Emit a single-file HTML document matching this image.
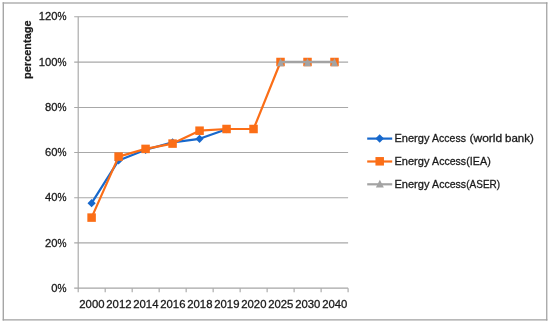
<!DOCTYPE html>
<html lang="en"><head><meta charset="utf-8"><title>Energy Access</title>
<style>
html,body{margin:0;padding:0;background:#fff;}
body{width:550px;height:323px;overflow:hidden;}
svg{display:block;}
text{font-family:"Liberation Sans",sans-serif;fill:#1a1a1a;}
</style></head><body>
<svg width="550" height="323" viewBox="0 0 550 323">
<rect x="0" y="0" width="550" height="323" fill="#fff"/>
<g stroke="#A6A6A6" stroke-width="1.3" fill="none"><line x1="2.7" y1="2.95" x2="547.4" y2="2.95" stroke="#B0B0B0" stroke-width="1.4"/><line x1="3.3" y1="2.3" x2="3.3" y2="320.4" stroke-width="1.4"/><line x1="546.75" y1="2.3" x2="546.75" y2="320.4" stroke="#A0A0A0" stroke-width="1.25"/><line x1="2.7" y1="319.8" x2="547.4" y2="319.8" stroke="#A0A0A0"/></g>
<g stroke="#A8A8A8" stroke-width="1.15" fill="none"><line x1="74.20" y1="288.20" x2="348.10" y2="288.20" stroke="#A6A6A6" stroke-width="1.3"/><line x1="74.20" y1="242.80" x2="348.10" y2="242.80"/><line x1="74.20" y1="197.70" x2="348.10" y2="197.70"/><line x1="74.20" y1="152.50" x2="348.10" y2="152.50"/><line x1="74.20" y1="107.50" x2="348.10" y2="107.50"/><line x1="74.20" y1="62.10" x2="348.10" y2="62.10"/><line x1="74.20" y1="16.70" x2="348.10" y2="16.70"/><line x1="78.20" y1="16.70" x2="78.20" y2="292.15"/><line x1="105.19" y1="288.15" x2="105.19" y2="292.15"/><line x1="132.18" y1="288.15" x2="132.18" y2="292.15"/><line x1="159.17" y1="288.15" x2="159.17" y2="292.15"/><line x1="186.16" y1="288.15" x2="186.16" y2="292.15"/><line x1="213.15" y1="288.15" x2="213.15" y2="292.15"/><line x1="240.14" y1="288.15" x2="240.14" y2="292.15"/><line x1="267.13" y1="288.15" x2="267.13" y2="292.15"/><line x1="294.12" y1="288.15" x2="294.12" y2="292.15"/><line x1="321.11" y1="288.15" x2="321.11" y2="292.15"/><line x1="348.10" y1="288.15" x2="348.10" y2="292.15"/></g>
<g font-size="11.6" stroke="#1a1a1a" stroke-width="0.3"><text y="291.95"><tspan x="51.30" textLength="6.25" lengthAdjust="spacingAndGlyphs">0</tspan><tspan x="57.45" textLength="9.0" lengthAdjust="spacingAndGlyphs">%</tspan></text><text y="246.55"><tspan x="45.05" textLength="12.50" lengthAdjust="spacingAndGlyphs">20</tspan><tspan x="57.45" textLength="9.0" lengthAdjust="spacingAndGlyphs">%</tspan></text><text y="201.45"><tspan x="45.05" textLength="12.50" lengthAdjust="spacingAndGlyphs">40</tspan><tspan x="57.45" textLength="9.0" lengthAdjust="spacingAndGlyphs">%</tspan></text><text y="156.25"><tspan x="45.05" textLength="12.50" lengthAdjust="spacingAndGlyphs">60</tspan><tspan x="57.45" textLength="9.0" lengthAdjust="spacingAndGlyphs">%</tspan></text><text y="111.25"><tspan x="45.05" textLength="12.50" lengthAdjust="spacingAndGlyphs">80</tspan><tspan x="57.45" textLength="9.0" lengthAdjust="spacingAndGlyphs">%</tspan></text><text y="65.85"><tspan x="38.80" textLength="18.75" lengthAdjust="spacingAndGlyphs">100</tspan><tspan x="57.45" textLength="9.0" lengthAdjust="spacingAndGlyphs">%</tspan></text><text y="20.45"><tspan x="38.80" textLength="18.75" lengthAdjust="spacingAndGlyphs">120</tspan><tspan x="57.45" textLength="9.0" lengthAdjust="spacingAndGlyphs">%</tspan></text></g>
<g font-size="11.6" text-anchor="middle" stroke="#1a1a1a" stroke-width="0.3"><text x="91.90" y="307.9" textLength="25.2" lengthAdjust="spacingAndGlyphs">2000</text><text x="118.89" y="307.9" textLength="25.2" lengthAdjust="spacingAndGlyphs">2012</text><text x="145.88" y="307.9" textLength="25.2" lengthAdjust="spacingAndGlyphs">2014</text><text x="172.87" y="307.9" textLength="25.2" lengthAdjust="spacingAndGlyphs">2016</text><text x="199.86" y="307.9" textLength="25.2" lengthAdjust="spacingAndGlyphs">2018</text><text x="226.85" y="307.9" textLength="25.2" lengthAdjust="spacingAndGlyphs">2019</text><text x="253.84" y="307.9" textLength="25.2" lengthAdjust="spacingAndGlyphs">2020</text><text x="280.82" y="307.9" textLength="25.2" lengthAdjust="spacingAndGlyphs">2025</text><text x="307.81" y="307.9" textLength="25.2" lengthAdjust="spacingAndGlyphs">2030</text><text x="334.81" y="307.9" textLength="25.2" lengthAdjust="spacingAndGlyphs">2040</text></g>
<text transform="translate(31.35,78.9) rotate(-90)" font-size="11.8" font-weight="bold" stroke="#1a1a1a" stroke-width="0.25" textLength="58.4" lengthAdjust="spacingAndGlyphs">percentage</text>
<polyline points="91.60,203.20 118.59,160.40 145.58,149.80 172.57,142.40 199.56,138.80 226.55,129.20" fill="none" stroke="#1768CC" stroke-width="2.2" stroke-linejoin="round" stroke-linecap="round"/><path d="M91.60 199.10L95.70 203.20L91.60 207.30L87.50 203.20Z" fill="#1768CC"/><path d="M118.59 156.30L122.69 160.40L118.59 164.50L114.49 160.40Z" fill="#1768CC"/><path d="M145.58 145.70L149.68 149.80L145.58 153.90L141.48 149.80Z" fill="#1768CC"/><path d="M172.57 138.30L176.67 142.40L172.57 146.50L168.47 142.40Z" fill="#1768CC"/><path d="M199.56 134.70L203.66 138.80L199.56 142.90L195.46 138.80Z" fill="#1768CC"/><path d="M226.55 125.10L230.65 129.20L226.55 133.30L222.45 129.20Z" fill="#1768CC"/>
<polyline points="91.60,217.60 118.59,156.60 145.58,148.90 172.57,143.60 199.56,130.70 226.55,129.00 253.53,129.00 280.52,62.00 307.51,62.00 334.50,62.00" fill="none" stroke="#FB6E17" stroke-width="2.2" stroke-linejoin="round" stroke-linecap="round"/><rect x="87.35" y="213.35" width="8.50" height="8.50" fill="#FB6E17"/><rect x="114.34" y="152.35" width="8.50" height="8.50" fill="#FB6E17"/><rect x="141.33" y="144.65" width="8.50" height="8.50" fill="#FB6E17"/><rect x="168.32" y="139.35" width="8.50" height="8.50" fill="#FB6E17"/><rect x="195.31" y="126.45" width="8.50" height="8.50" fill="#FB6E17"/><rect x="222.30" y="124.75" width="8.50" height="8.50" fill="#FB6E17"/><rect x="249.28" y="124.75" width="8.50" height="8.50" fill="#FB6E17"/><rect x="276.27" y="57.75" width="8.50" height="8.50" fill="#FB6E17"/><rect x="303.26" y="57.75" width="8.50" height="8.50" fill="#FB6E17"/><rect x="330.25" y="57.75" width="8.50" height="8.50" fill="#FB6E17"/>
<polyline points="280.52,61.94 307.51,61.94 334.50,61.94" fill="none" stroke="#A3A3A3" stroke-width="2.5" stroke-linejoin="round" stroke-linecap="round"/><path d="M280.52 57.89L284.09 66.19L276.96 66.19Z" fill="#A3A3A3"/><path d="M307.51 57.89L311.08 66.19L303.95 66.19Z" fill="#A3A3A3"/><path d="M334.50 57.89L338.07 66.19L330.94 66.19Z" fill="#A3A3A3"/>
<line x1="367.2" y1="138.60" x2="392.2" y2="138.60" stroke="#1768CC" stroke-width="2.2"/><path d="M379.70 134.35L383.95 138.60L379.70 142.85L375.45 138.60Z" fill="#1768CC"/><line x1="367.2" y1="161.50" x2="392.2" y2="161.50" stroke="#FB6E17" stroke-width="2.2"/><rect x="375.45" y="157.05" width="8.50" height="8.50" fill="#FB6E17"/><line x1="367.2" y1="184.30" x2="392.2" y2="184.30" stroke="#A3A3A3" stroke-width="2.2"/><path d="M379.85 179.75L383.83 187.55L375.87 187.55Z" fill="#A3A3A3"/>
<g font-size="11.3" stroke="#1a1a1a" stroke-width="0.3"><text y="141.8"><tspan x="394.4" textLength="35.1" lengthAdjust="spacingAndGlyphs">Energy</tspan> <tspan x="432.1" textLength="33.8" lengthAdjust="spacingAndGlyphs">Access</tspan> <tspan x="469.5" textLength="32.7" lengthAdjust="spacingAndGlyphs">(world</tspan> <tspan x="505.0" textLength="28.8" lengthAdjust="spacingAndGlyphs">bank)</tspan></text><text y="165.0"><tspan x="394.4" textLength="35.1" lengthAdjust="spacingAndGlyphs">Energy</tspan> <tspan x="432.1" textLength="34.0" lengthAdjust="spacingAndGlyphs">Access</tspan><tspan x="466.3" textLength="24.4" lengthAdjust="spacingAndGlyphs">(IEA)</tspan></text><text y="187.8"><tspan x="394.4" textLength="35.1" lengthAdjust="spacingAndGlyphs">Energy</tspan> <tspan x="432.1" textLength="34.0" lengthAdjust="spacingAndGlyphs">Access</tspan><tspan x="466.3" textLength="33.8" lengthAdjust="spacingAndGlyphs">(ASER)</tspan></text></g>
</svg>
</body></html>
